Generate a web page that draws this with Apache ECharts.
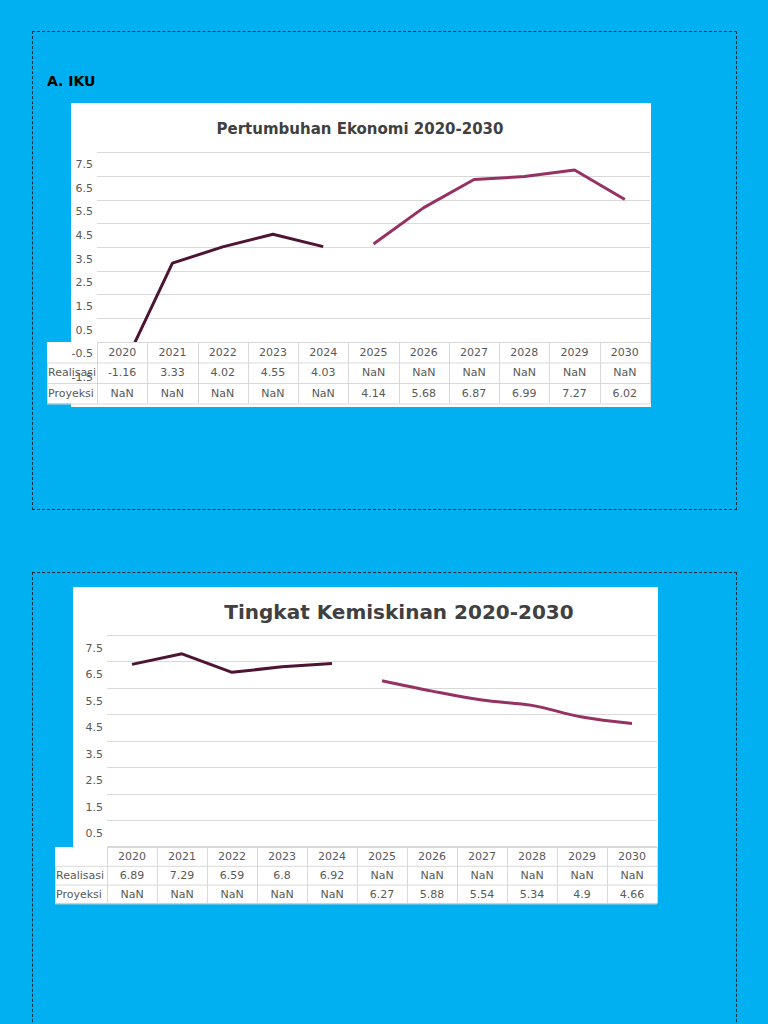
<!DOCTYPE html>
<html>
<head>
<meta charset="utf-8">
<script src="https://cdn.jsdelivr.net/npm/echarts@6/dist/echarts.min.js"></script>
<style>
  body { margin: 0; width: 768px; height: 1024px; overflow: hidden; position: relative; background: #00b0f0; font-family: 'DejaVu Sans', sans-serif; }
  .box { position: absolute; border: 1px dashed #1d2b3a; box-sizing: border-box; }
  .heading { position: absolute; left: 47px; top: 73px; font-size: 14px; font-weight: bold; color: #000; }
  .chart { position: absolute; }
</style>
</head>
<body>
<div class="box" style="left:32px;top:31px;width:705px;height:479px"></div>
<div class="box" style="left:32px;top:572px;width:705px;height:480px"></div>
<div class="heading">A. IKU</div>
<div id="c1" class="chart" style="left:47px;top:103px;width:604px;height:305px"></div>
<div id="c2" class="chart" style="left:55px;top:587px;width:604px;height:318px"></div>
<script>
const years = ['2020', '2021', '2022', '2023', '2024', '2025', '2026', '2027', '2028', '2029', '2030'];

// Pertumbuhan Ekonomi
const ekoRealisasi = [-1.16, 3.33, 4.02, 4.55, 4.03, null, null, null, null, null, null];
const ekoProyeksi = [null, null, null, null, null, 4.14, 5.68, 6.87, 6.99, 7.27, 6.02];

// Tingkat Kemiskinan
const misRealisasi = [6.89, 7.29, 6.59, 6.8, 6.92, null, null, null, null, null, null];
const misProyeksi = [null, null, null, null, null, 6.27, 5.88, 5.54, 5.34, 4.9, 4.66];

const rowNames = ['Realisasi', 'Proyeksi'];
const colReal = '#4d1434';
const colProy = '#953263';
const gridCol = '#d9d9d9';
const textCol = '#595959';

function halfLabel(v) {
  return Math.round(v * 2) % 2 !== 0 ? v.toFixed(1) : '';
}

function makeOption(cfg) {
  return {
    animation: false,
    title: {
      text: cfg.title,
      left: cfg.titleX,
      top: cfg.titleY,
      textAlign: 'center',
      textStyle: { fontFamily: 'DejaVu Sans', fontSize: cfg.titleSize, fontWeight: 'bold', color: '#404040' }
    },
    grid: cfg.grid,
    xAxis: {
      type: 'category',
      data: years,
      boundaryGap: true,
      show: false
    },
    yAxis: [
      {
        type: 'value',
        min: cfg.min,
        max: cfg.max,
        interval: 0.5,
        z: 10,
        axisLine: { show: false },
        axisTick: { show: false },
        splitLine: { show: false },
        axisLabel: { formatter: halfLabel, color: textCol, fontSize: 11, fontFamily: 'DejaVu Sans', margin: 4 }
      },
      {
        type: 'value',
        min: cfg.min,
        max: cfg.max,
        interval: 1,
        axisLine: { show: false },
        axisTick: { show: false },
        axisLabel: { show: false },
        splitLine: { lineStyle: { color: gridCol, width: 1 } }
      }
    ],
    series: [
      {
        name: rowNames[0], type: 'line', data: cfg.real, z: 2,
        showSymbol: false, smooth: false,
        lineStyle: { color: colReal, width: 3 }, itemStyle: { color: colReal }
      },
      {
        name: rowNames[1], type: 'line', data: cfg.proy, z: 2,
        showSymbol: false, smooth: cfg.smooth,
        lineStyle: { color: colProy, width: 3 }, itemStyle: { color: colProy }
      }
    ]
  };
}

// data table under the plot, placed from the chart's own axes
function addTable(chart, cfg) {
  const x0 = chart.convertToPixel({ xAxisIndex: 0 }, 0);
  const x1 = chart.convertToPixel({ xAxisIndex: 0 }, 1);
  const band = x1 - x0;
  const left = x0 - band / 2;
  const right = left + band * years.length;
  const top = Math.round(chart.convertToPixel({ yAxisIndex: 0 }, cfg.min > 0 ? cfg.min : 0));
  const h = cfg.rowH;
  const bottom = top + h * 3;
  const els = [];
  const line = (xa, ya, xb, yb) => els.push({
    type: 'line', z: 6, shape: { x1: xa, y1: ya, x2: xb, y2: yb },
    style: { stroke: gridCol, lineWidth: 1 }
  });
  const txt = (s, x, y, align) => els.push({
    type: 'text', z: 7, x: x, y: y,
    style: { text: s, fill: textCol, fontSize: 11, fontFamily: 'DejaVu Sans', align: align, verticalAlign: 'middle' }
  });

  els.push({ type: 'rect', z: 5, shape: { x: 0, y: top, width: right, height: bottom - top }, style: { fill: '#fff' } });
  line(left, top + 0.5, right, top + 0.5);
  for (let r = 1; r <= 3; r++) line(0, top + h * r + 0.5, right, top + h * r + 0.5);
  line(0.5, top + h, 0.5, bottom);
  for (let i = 0; i <= years.length; i++) {
    const x = Math.round(left + band * i) + 0.5;
    line(x, top, x, bottom);
  }
  const rowsData = [cfg.real, cfg.proy];
  years.forEach((y, i) => {
    const cx = left + band * (i + 0.5);
    txt(y, cx, top + h * 0.5, 'center');
    rowsData.forEach((d, r) => txt(d[i] == null ? 'NaN' : String(d[i]), cx, top + h * (r + 1.5), 'center'));
  });
  rowNames.forEach((n, r) => txt(n, 1, top + h * (r + 1.5), 'left'));

  els.unshift({ type: 'rect', z: -1, shape: cfg.panel, style: { fill: '#fff' } });
  chart.setOption({ graphic: els });
}

const cfg1 = {
  title: 'Pertumbuhan Ekonomi 2020-2030', titleX: 308, titleY: 13, titleSize: 15,
  grid: { left: 50, top: 49.7, width: 553, height: 236.6 },
  min: -2, max: 8, real: ekoRealisasi, proy: ekoProyeksi, smooth: false,
  rowH: 20.5, panel: { x: 24, y: 0, width: 580, height: 304 }
};
const cfg2 = {
  title: 'Tingkat Kemiskinan 2020-2030', titleX: 339, titleY: 10, titleSize: 20,
  grid: { left: 52, top: 48, width: 550, height: 211.7 },
  min: 0, max: 8, real: misRealisasi, proy: misProyeksi, smooth: 0.35,
  rowH: 18.8, panel: { x: 18, y: 0, width: 585, height: 291 }
};

[['c1', cfg1], ['c2', cfg2]].forEach(([id, cfg]) => {
  const chart = echarts.init(document.getElementById(id), null, { renderer: 'svg' });
  chart.setOption(makeOption(cfg));
  addTable(chart, cfg);
});
</script>
</body>
</html>
